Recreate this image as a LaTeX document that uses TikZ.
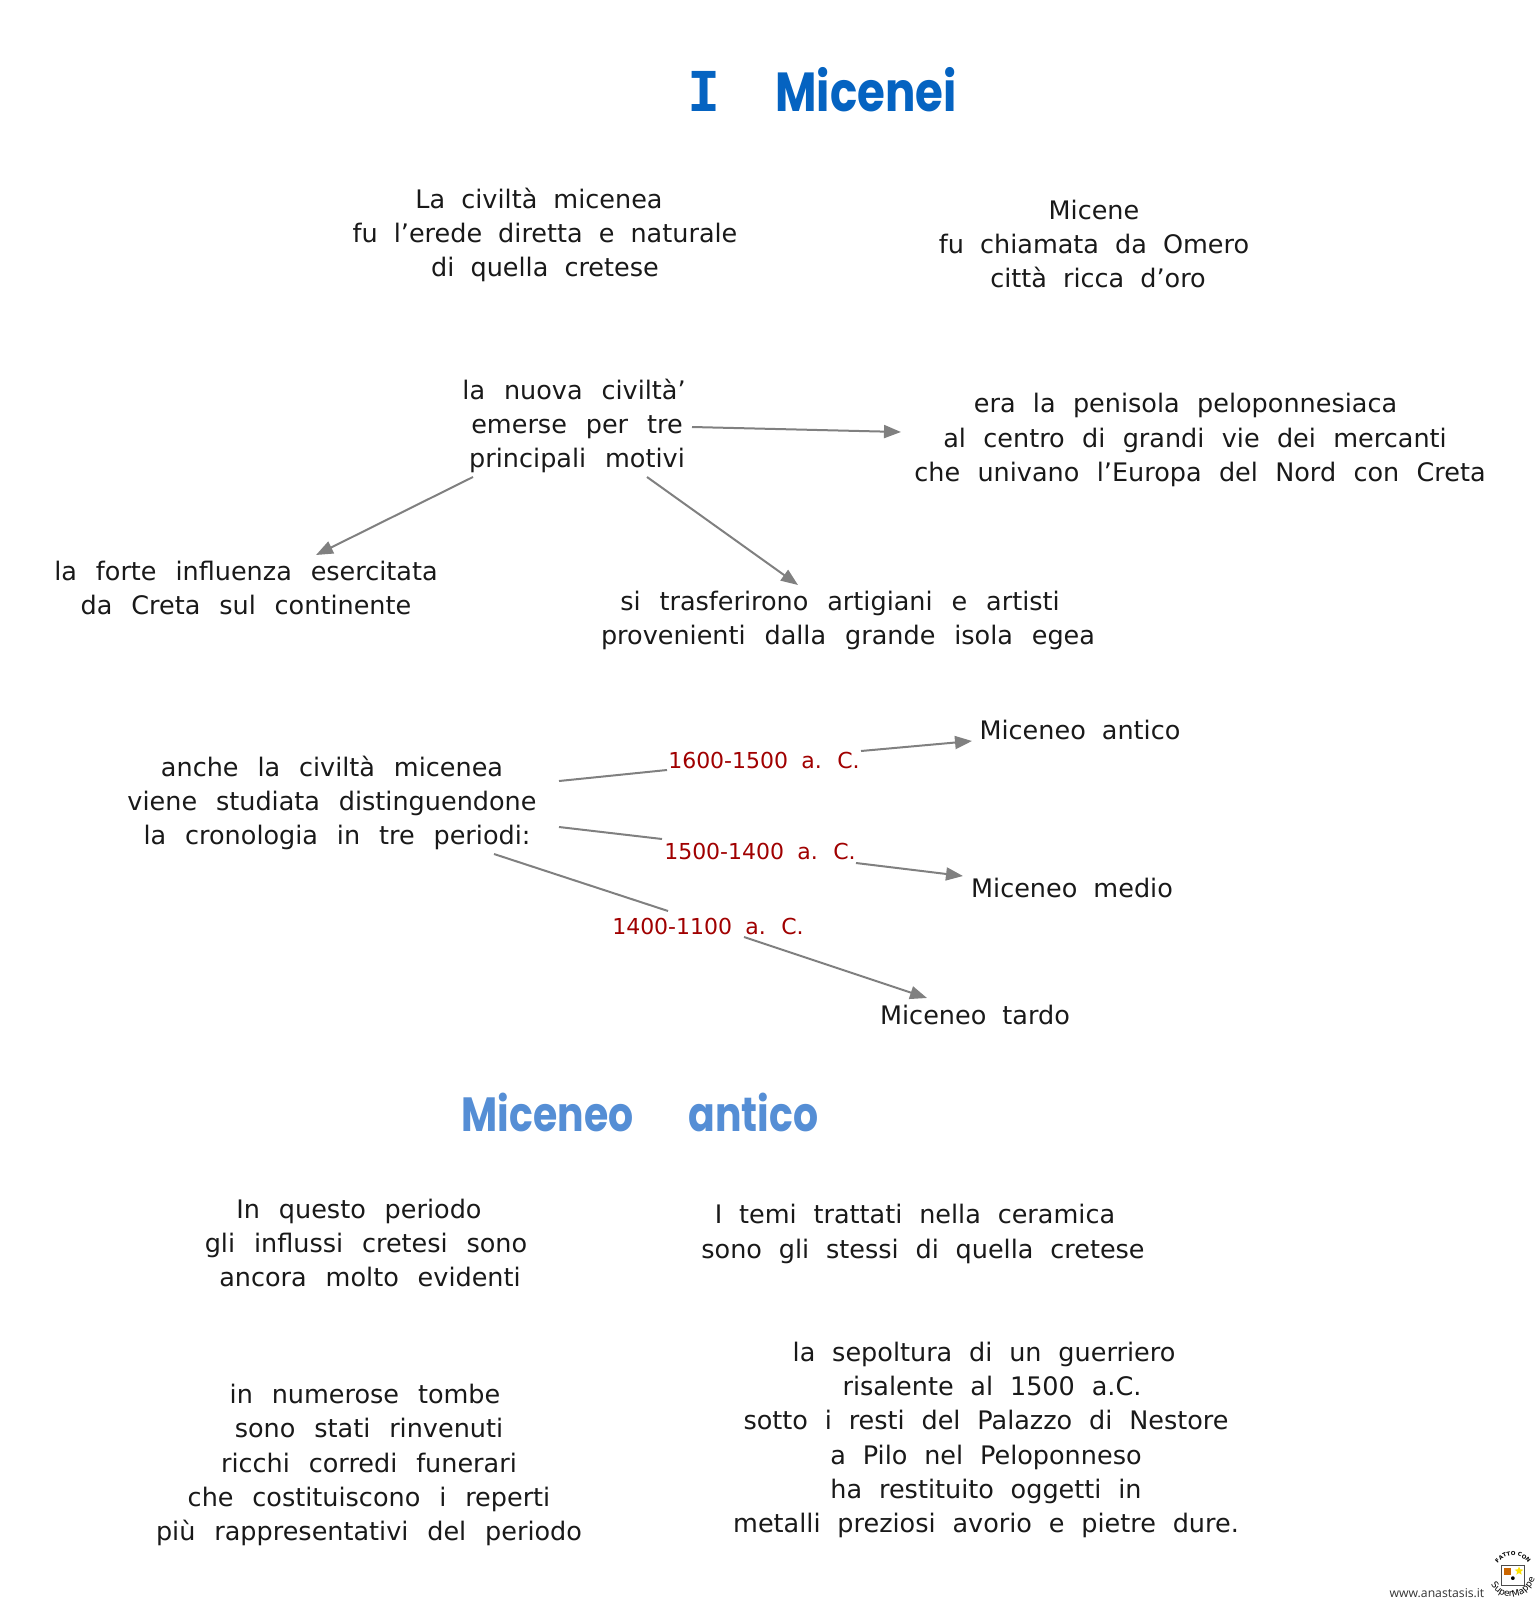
\documentclass[tikz,border=0pt]{standalone}
\usepackage{fontspec}
\setmainfont{DejaVu Sans}
\newfontfamily\headfont[FakeStretch=0.82]{Poppins}
\newfontfamily\capfont{DejaVu Sans Mono}
\newfontfamily\logofont{Open Sans}
\usepackage{xcolor}
\usetikzlibrary{arrows.meta}
\usetikzlibrary{shapes.geometric}
\usetikzlibrary{decorations.text}
\definecolor{titleblue}{HTML}{0563C1}
\definecolor{headblue}{HTML}{558ED5}
\definecolor{linkgray}{HTML}{808080}
\definecolor{datered}{HTML}{A00000}
\newcommand{\txtfont}[1]{\fontsize{25.5}{34.3}\selectfont\spaceskip #1em\relax}
\newcommand{\datefont}{\fontsize{22}{28}\selectfont\spaceskip 0.6em\relax}
\newcommand{\nudge}[1]{\hspace*{#1pt}}
\tikzset{
  txt/.style={align=center,inner sep=0pt,text=black!90,font=\txtfont{#1}},
  txt/.default=0.74,
  dates/.style={inner sep=0pt,text=datered,font=\datefont},
  heading/.style={inner sep=0pt,font=\headfont\bfseries\fontsize{#1}{60}\selectfont},
  link/.style={draw=linkgray,line width=2pt},
  linkarrow/.style={link,-{Triangle[length=17pt,width=13pt]}}
}
\begin{document}
\begin{tikzpicture}[x=1pt,y=-1pt]
    \useasboundingbox (0,0) rectangle (1539,1600);
    \node[heading=55,text=titleblue] (title) at (822,90) {{\capfont I}\hspace{55pt}Micenei};
    \node[txt=0.63] (civilta) at (545,235) {\nudge{-12}La civiltà micenea\\fu l’erede diretta e naturale\\di quella cretese};
    \node[txt=0.63] (micene) at (1094,244) {Micene\\fu chiamata da Omero\\\nudge{8}città ricca d’oro};
    \node[txt] (nuova) at (577,426) {\nudge{-6}la nuova civiltà’\\emerse per tre\\principali motivi};
    \node[txt=0.68] (penisola) at (1200,440) {\nudge{-29}era la penisola peloponnesiaca\\\nudge{-10}al centro di grandi vie dei mercanti\\che univano l’Europa del Nord con Creta};
    \node[txt] (forte) at (246,588) {la forte influenza esercitata\\da Creta sul continente};
    \node[txt] (artigiani) at (848,620.5) {\nudge{-16}si trasferirono artigiani e artisti\\provenienti dalla grande isola egea};
    \node[txt] (anche) at (332,803) {anche la civiltà micenea\\viene studiata distinguendone\\\nudge{10}la cronologia in tre periodi:};
    \node[txt=0.63] (antico) at (1080,730) {Miceneo antico};
    \node[txt=0.63] (medio) at (1072,888) {Miceneo medio};
    \node[txt=0.63] (tardo) at (975,1015) {Miceneo tardo};
    \node[dates] (da) at (764,760.5) {1600-1500 a. C.};
    \node[dates] (db) at (760,851.5) {1500-1400 a. C.};
    \node[dates] (dc) at (708,926) {1400-1100 a. C.};
    \node[heading=48,text=headblue] (sub) at (640,1112) {Miceneo\hspace{55pt}antico};
    \node[txt] (periodo) at (366,1243) {\nudge{-14}In questo periodo\\gli influssi cretesi sono\\\nudge{8}ancora molto evidenti};
    \node[txt=0.66] (temi) at (923,1234) {\nudge{-16}I temi trattati nella ceramica\\sono gli stessi di quella cretese};
    \node[txt] (tombe) at (369,1465) {\nudge{-8}in numerose tombe\\sono stati rinvenuti\\ricchi corredi funerari\\che costituiscono i reperti\\più rappresentativi del periodo};
    \node[txt=0.66] (sepoltura) at (986,1440) {\nudge{-4}la sepoltura di un guerriero\\\nudge{12}risalente al 1500 a.C.\\sotto i resti del Palazzo di Nestore\\a Pilo nel Peloponneso\\ha restituito oggetti in\\metalli preziosi avorio e pietre dure.};
    \draw[linkarrow] ([shift={(115,1)}]nuova.center) to ([shift={(-299,-8)}]penisola.center);
    \draw[linkarrow] ([shift={(-104,51)}]nuova.center) to ([shift={(70,-33)}]forte.center);
    \draw[linkarrow] ([shift={(70,51)}]nuova.center) to ([shift={(-50,-35.5)}]artigiani.center);
    \draw[link] ([shift={(227,-22)}]anche.center) to ([shift={(-97,9.5)}]da.center);
    \draw[linkarrow] ([shift={(97,-9.5)}]da.center) to ([shift={(-108,11)}]antico.center);
    \draw[link] ([shift={(227,24)}]anche.center) to ([shift={(-98,-12.5)}]db.center);
    \draw[linkarrow] ([shift={(96,11.5)}]db.center) to ([shift={(-109,-12)}]medio.center);
    \draw[link] ([shift={(162,51)}]anche.center) to ([shift={(-40,-15)}]dc.center);
    \draw[linkarrow] ([shift={(36,11)}]dc.center) to ([shift={(-48,-17)}]tardo.center);
    \node[inner sep=0pt,text=black!80,font=\logofont\fontsize{12.2}{16}\selectfont] (web) at (1437,1593) {www.anastasis.it};
    \node[draw=black!70,line width=0.5pt,minimum width=23pt,minimum height=20pt,inner sep=0pt] (logo) at (1513,1575) {};
    \node[fill=orange!80!black,minimum size=7pt,inner sep=0pt] (book) at (1507,1571) {};
    \node[star,star points=5,star point ratio=2.2,fill=yellow!85!orange,minimum size=9pt,inner sep=0pt] (starb) at (1519,1571) {};
    \node[inner sep=0pt,font=\fontsize{13}{13}\selectfont] (paw) at (1513,1580) {\textbullet};
    \path[decorate,decoration={text along path,text align=center,text={|\bfseries\fontsize{5.5}{6}\selectfont|FATTO CON}}] (1498,1563) .. controls (1506,1553) and (1520,1553) .. (1528,1563);
    \path[decorate,decoration={text along path,text align=center,text={|\fontsize{9}{9}\selectfont|SuperMappe}}] (1487,1572) .. controls (1491,1606) and (1534,1606) .. (1538,1566);
\end{tikzpicture}
\end{document}
